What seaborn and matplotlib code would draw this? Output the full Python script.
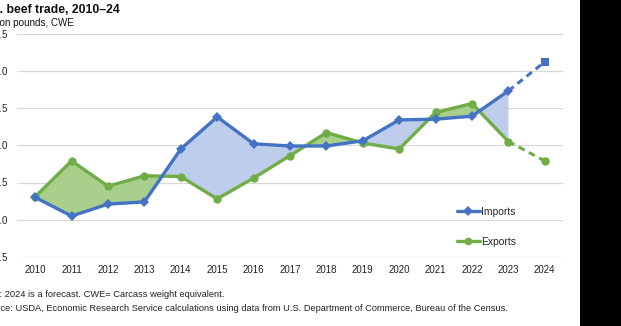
import matplotlib
matplotlib.use("Agg")
import matplotlib.pyplot as plt
from matplotlib.patches import Rectangle
from matplotlib.lines import Line2D
import numpy as np
import pandas as pd
import seaborn as sns

# U.S. beef trade, billion pounds (carcass weight equivalent); 2024 is a forecast
years = [2010, 2011, 2012, 2013, 2014, 2015, 2016, 2017, 2018, 2019,
         2020, 2021, 2022, 2023, 2024]
imports = [1.30, 1.05, 1.21, 1.24, 1.95, 2.38, 2.02, 1.99, 1.99, 2.06,
           2.34, 2.35, 2.39, 2.73, 3.12]
exports = [1.31, 1.79, 1.45, 1.59, 1.58, 1.28, 1.56, 1.86, 2.17, 2.03,
           1.95, 2.44, 2.56, 2.05, 1.79]
y_ticks = [0.5, 1.0, 1.5, 2.0, 2.5, 3.0, 3.5]

title = "U.S. beef trade, 2010–24"
subtitle = "Billion pounds, CWE"
note = "Note: 2024 is a forecast. CWE= Carcass weight equivalent."
source = ("Source: USDA, Economic Research Service calculations using data from "
          "U.S. Department of Commerce, Bureau of the Census.")

BLUE = "#4472C4"
GREEN = "#70AD47"
BLUE_FILL = "#BDCDEB"
GREEN_FILL = "#A9CF8C"

sns.set_theme(style="white")
plt.rcParams["font.family"] = ["Liberation Sans", "DejaVu Sans"]

W, H = 621, 326
fig = plt.figure(figsize=(W / 100, H / 100), dpi=100)


def fx(x):
    return x / W


def fy(y):
    return 1 - y / H


left, right, top, bottom = 17, 563, 33.5, 257
ax = fig.add_axes([fx(left), fy(bottom), (right - left) / W, (bottom - top) / H])

df = pd.DataFrame({"year": years, "Imports": imports, "Exports": exports})
hist = df[df["year"] <= 2023]
fcst = df[df["year"] >= 2023]

# shaded gap between the two series (actual years)
imp = hist["Imports"].to_numpy()
exp_ = hist["Exports"].to_numpy()
yr = hist["year"].to_numpy()
ax.fill_between(yr, imp, exp_, where=imp >= exp_, interpolate=True,
                color=BLUE_FILL, lw=0, zorder=1)
ax.fill_between(yr, imp, exp_, where=exp_ >= imp, interpolate=True,
                color=GREEN_FILL, lw=0, zorder=1)

# actual years
sns.lineplot(data=hist, x="year", y="Exports", ax=ax, color=GREEN, lw=2.4,
             marker="o", markersize=6, markeredgewidth=0, zorder=3)
sns.lineplot(data=hist, x="year", y="Imports", ax=ax, color=BLUE, lw=2.4,
             marker="D", markersize=5.5, markeredgewidth=0, zorder=4)

# forecast segment
sns.lineplot(data=fcst, x="year", y="Exports", ax=ax, color=GREEN, lw=2.2,
             linestyle=(0, (2.2, 1.6)), zorder=3)
sns.lineplot(data=fcst, x="year", y="Imports", ax=ax, color=BLUE, lw=2.2,
             linestyle=(0, (2.2, 1.6)), zorder=3)
f24 = df[df["year"] == 2024]
ax.scatter(f24["year"], f24["Exports"], s=36, marker="o", color=GREEN, lw=0, zorder=5)
ax.scatter(f24["year"], f24["Imports"], s=30, marker="s", color=BLUE, lw=0, zorder=5)

ax.set_xlim(2009.5, 2024.5)
ax.set_ylim(0.5, 3.5)
ax.set_xticks(years)
ax.set_xticklabels([str(y) for y in years])
ax.set_yticks(y_ticks)
ax.set_yticklabels([f"{v:.1f}" for v in y_ticks])
ax.set_xlabel("")
ax.set_ylabel("")
ax.grid(axis="y", color="#D9D9D9", lw=0.9)
ax.grid(axis="x", visible=False)
for s in ax.spines.values():
    s.set_visible(False)
ax.tick_params(axis="both", length=0, labelsize=7, colors="#222222")
ax.tick_params(axis="y", pad=6.5)
ax.tick_params(axis="x", pad=6)
ax.set_axisbelow(True)
ax.patch.set_alpha(0)

handles = [
    Line2D([], [], color=BLUE, lw=2.4, marker="D", markersize=5, markeredgewidth=0),
    Line2D([], [], color=GREEN, lw=2.4, marker="o", markersize=5.5, markeredgewidth=0),
]
ax.legend(handles, ["Imports", "Exports"], loc="upper left",
          bbox_to_anchor=(fx(457), fy(207)), bbox_transform=fig.transFigure,
          frameon=False, fontsize=7.4, handlelength=2.2, handletextpad=0.1,
          labelspacing=1.9, borderpad=0, borderaxespad=0)

fig.text(fx(-21), fy(13), title, fontsize=8.8, fontweight="bold", color="#111111")
fig.text(fx(-16), fy(26), subtitle, fontsize=7.1, color="#111111")
fig.text(fx(-19.5), fy(297), note, fontsize=6.7, color="#222222")
fig.text(fx(-19), fy(311), source, fontsize=6.7, color="#222222")

# dark band on the right edge
fig.add_artist(Rectangle((fx(580), 0), 1 - fx(580), 1, transform=fig.transFigure,
                         color="black", lw=0, zorder=10))

fig.savefig("out.png", dpi=100)
